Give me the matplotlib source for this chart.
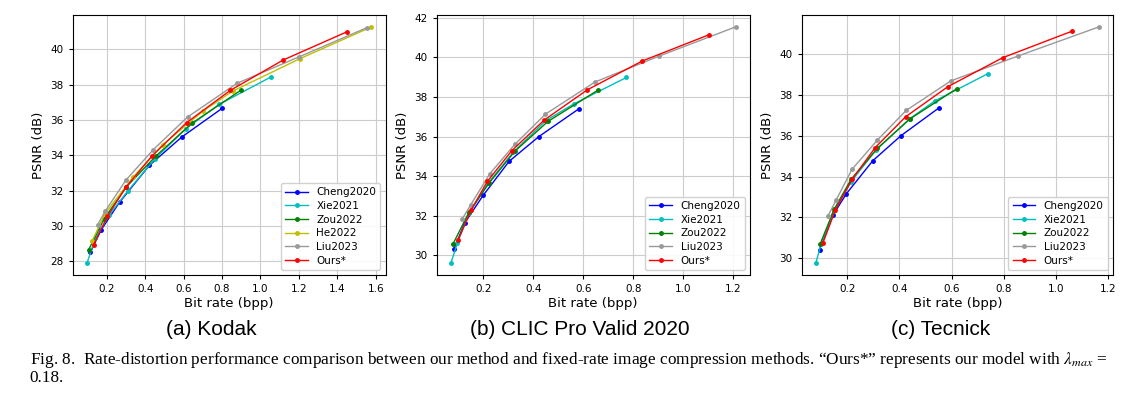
import matplotlib
matplotlib.use("Agg")
import matplotlib.pyplot as plt

# Kodak
kodak_cheng_x = [0.114, 0.171, 0.266, 0.421, 0.589, 0.800]
kodak_cheng_y = [28.51, 29.80, 31.35, 33.43, 35.03, 36.66]
kodak_xie_x = [0.096, 0.14, 0.21, 0.31, 0.45, 0.61, 0.784, 1.057]
kodak_xie_y = [27.90, 29.30, 30.60, 32.00, 33.80, 35.50, 36.88, 38.45]
kodak_zou_x = [0.105, 0.185, 0.300, 0.456, 0.642, 0.897]
kodak_zou_y = [28.66, 30.40, 32.20, 33.97, 35.81, 37.68]
kodak_he_x = [0.122, 0.19, 0.335, 0.49, 0.70, 0.856, 1.205, 1.578]
kodak_he_y = [29.13, 30.70, 32.75, 34.60, 36.50, 37.64, 39.47, 41.27]
kodak_liu_x = [0.152, 0.191, 0.299, 0.442, 0.620, 0.878, 1.200, 1.555]
kodak_liu_y = [30.08, 30.84, 32.60, 34.33, 36.17, 38.08, 39.57, 41.23]
kodak_ours_x = [0.131, 0.203, 0.299, 0.437, 0.615, 0.843, 1.119, 1.450]
kodak_ours_y = [28.95, 30.55, 32.20, 33.99, 35.85, 37.68, 39.40, 40.99]

# CLIC Pro Valid 2020
clic_cheng_x = [0.084, 0.127, 0.200, 0.304, 0.423, 0.583]
clic_cheng_y = [30.35, 31.65, 33.03, 34.75, 36.00, 37.40]
clic_xie_x = [0.071, 0.097, 0.145, 0.220, 0.320, 0.450, 0.563, 0.773]
clic_xie_y = [29.61, 30.62, 32.15, 33.65, 35.20, 36.80, 37.65, 38.98]
clic_zou_x = [0.080, 0.143, 0.224, 0.327, 0.459, 0.659]
clic_zou_y = [30.59, 32.17, 33.66, 35.26, 36.76, 38.34]
clic_liu_x = [0.117, 0.151, 0.227, 0.327, 0.449, 0.647, 0.904, 1.209]
clic_liu_y = [31.85, 32.57, 34.13, 35.61, 37.13, 38.75, 40.06, 41.53]
clic_ours_x = [0.100, 0.151, 0.217, 0.315, 0.444, 0.617, 0.836, 1.104]
clic_ours_y = [30.79, 32.27, 33.74, 35.29, 36.83, 38.36, 39.81, 41.14]

# Tecnick
tec_cheng_x = [0.094, 0.145, 0.197, 0.298, 0.406, 0.552]
tec_cheng_y = [30.41, 32.10, 33.16, 34.78, 36.01, 37.38]
tec_xie_x = [0.080, 0.100, 0.150, 0.215, 0.310, 0.440, 0.535, 0.740]
tec_xie_y = [29.75, 30.70, 32.30, 33.75, 35.30, 36.85, 37.71, 39.06]
tec_zou_x = [0.097, 0.150, 0.215, 0.316, 0.441, 0.620]
tec_zou_y = [30.71, 32.39, 33.87, 35.39, 36.84, 38.32]
tec_liu_x = [0.126, 0.157, 0.218, 0.316, 0.426, 0.597, 0.856, 1.164]
tec_liu_y = [32.06, 32.83, 34.35, 35.80, 37.25, 38.70, 39.93, 41.35]
tec_ours_x = [0.107, 0.155, 0.219, 0.307, 0.424, 0.586, 0.796, 1.061]
tec_ours_y = [30.74, 32.37, 33.87, 35.42, 36.94, 38.42, 39.84, 41.14]

subcaptions = ["(a) Kodak", "(b) CLIC Pro Valid 2020", "(c) Tecnick"]
colors = {"Cheng2020": "b", "Xie2021": "c", "Zou2022": "g",
          "He2022": "y", "Liu2023": "#999999", "Ours*": "r"}

panels = [
    [("Cheng2020", kodak_cheng_x, kodak_cheng_y), ("Xie2021", kodak_xie_x, kodak_xie_y),
     ("Zou2022", kodak_zou_x, kodak_zou_y), ("He2022", kodak_he_x, kodak_he_y),
     ("Liu2023", kodak_liu_x, kodak_liu_y), ("Ours*", kodak_ours_x, kodak_ours_y)],
    [("Cheng2020", clic_cheng_x, clic_cheng_y), ("Xie2021", clic_xie_x, clic_xie_y),
     ("Zou2022", clic_zou_x, clic_zou_y), ("Liu2023", clic_liu_x, clic_liu_y),
     ("Ours*", clic_ours_x, clic_ours_y)],
    [("Cheng2020", tec_cheng_x, tec_cheng_y), ("Xie2021", tec_xie_x, tec_xie_y),
     ("Zou2022", tec_zou_x, tec_zou_y), ("Liu2023", tec_liu_x, tec_liu_y),
     ("Ours*", tec_ours_x, tec_ours_y)],
]

plt.rcParams["mathtext.fontset"] = "stix"
fig = plt.figure(figsize=(11.43, 3.95), dpi=100)
boxes = [(0.0636, 0.3038, 0.2738, 0.658),
         (0.382, 0.3038, 0.274, 0.658),
         (0.7014, 0.3038, 0.2724, 0.658)]
sub_x = [0.1846, 0.5074, 0.823]

for box, series, sub, sx in zip(boxes, panels, subcaptions, sub_x):
    ax = fig.add_axes(box)
    for name, xs, ys in series:
        ax.plot(xs, ys, marker=".", markersize=5, linewidth=1,
                color=colors[name], label=name)
    ax.grid(True, color="#cccccc", linewidth=0.8)
    ax.set_axisbelow(True)
    ax.tick_params(labelsize=7.5, length=3)
    ax.set_xlabel("Bit rate (bpp)", fontsize=9.5, labelpad=2)
    ax.set_ylabel("PSNR (dB)", fontsize=9.5, labelpad=4)
    ax.legend(loc="lower right", fontsize=7.5, handlelength=2.2,
              borderpad=0.4, labelspacing=0.35, framealpha=0.9)
    fig.text(sx, 0.165, sub, ha="center", va="center", fontsize=15,
             family="Liberation Sans")

fig.text(0.026, 0.088,
         "Fig. 8.  Rate-distortion performance comparison between our method and "
         "fixed-rate image compression methods. \u201cOurs*\u201d represents our model "
         "with $\\lambda_{max}$ =",
         ha="left", va="center", fontsize=12.4, family="Liberation Serif")
fig.text(0.026, 0.044, "0.18.", ha="left", va="center", fontsize=12.4,
         family="Liberation Serif")

fig.savefig("out.png", dpi=100)
